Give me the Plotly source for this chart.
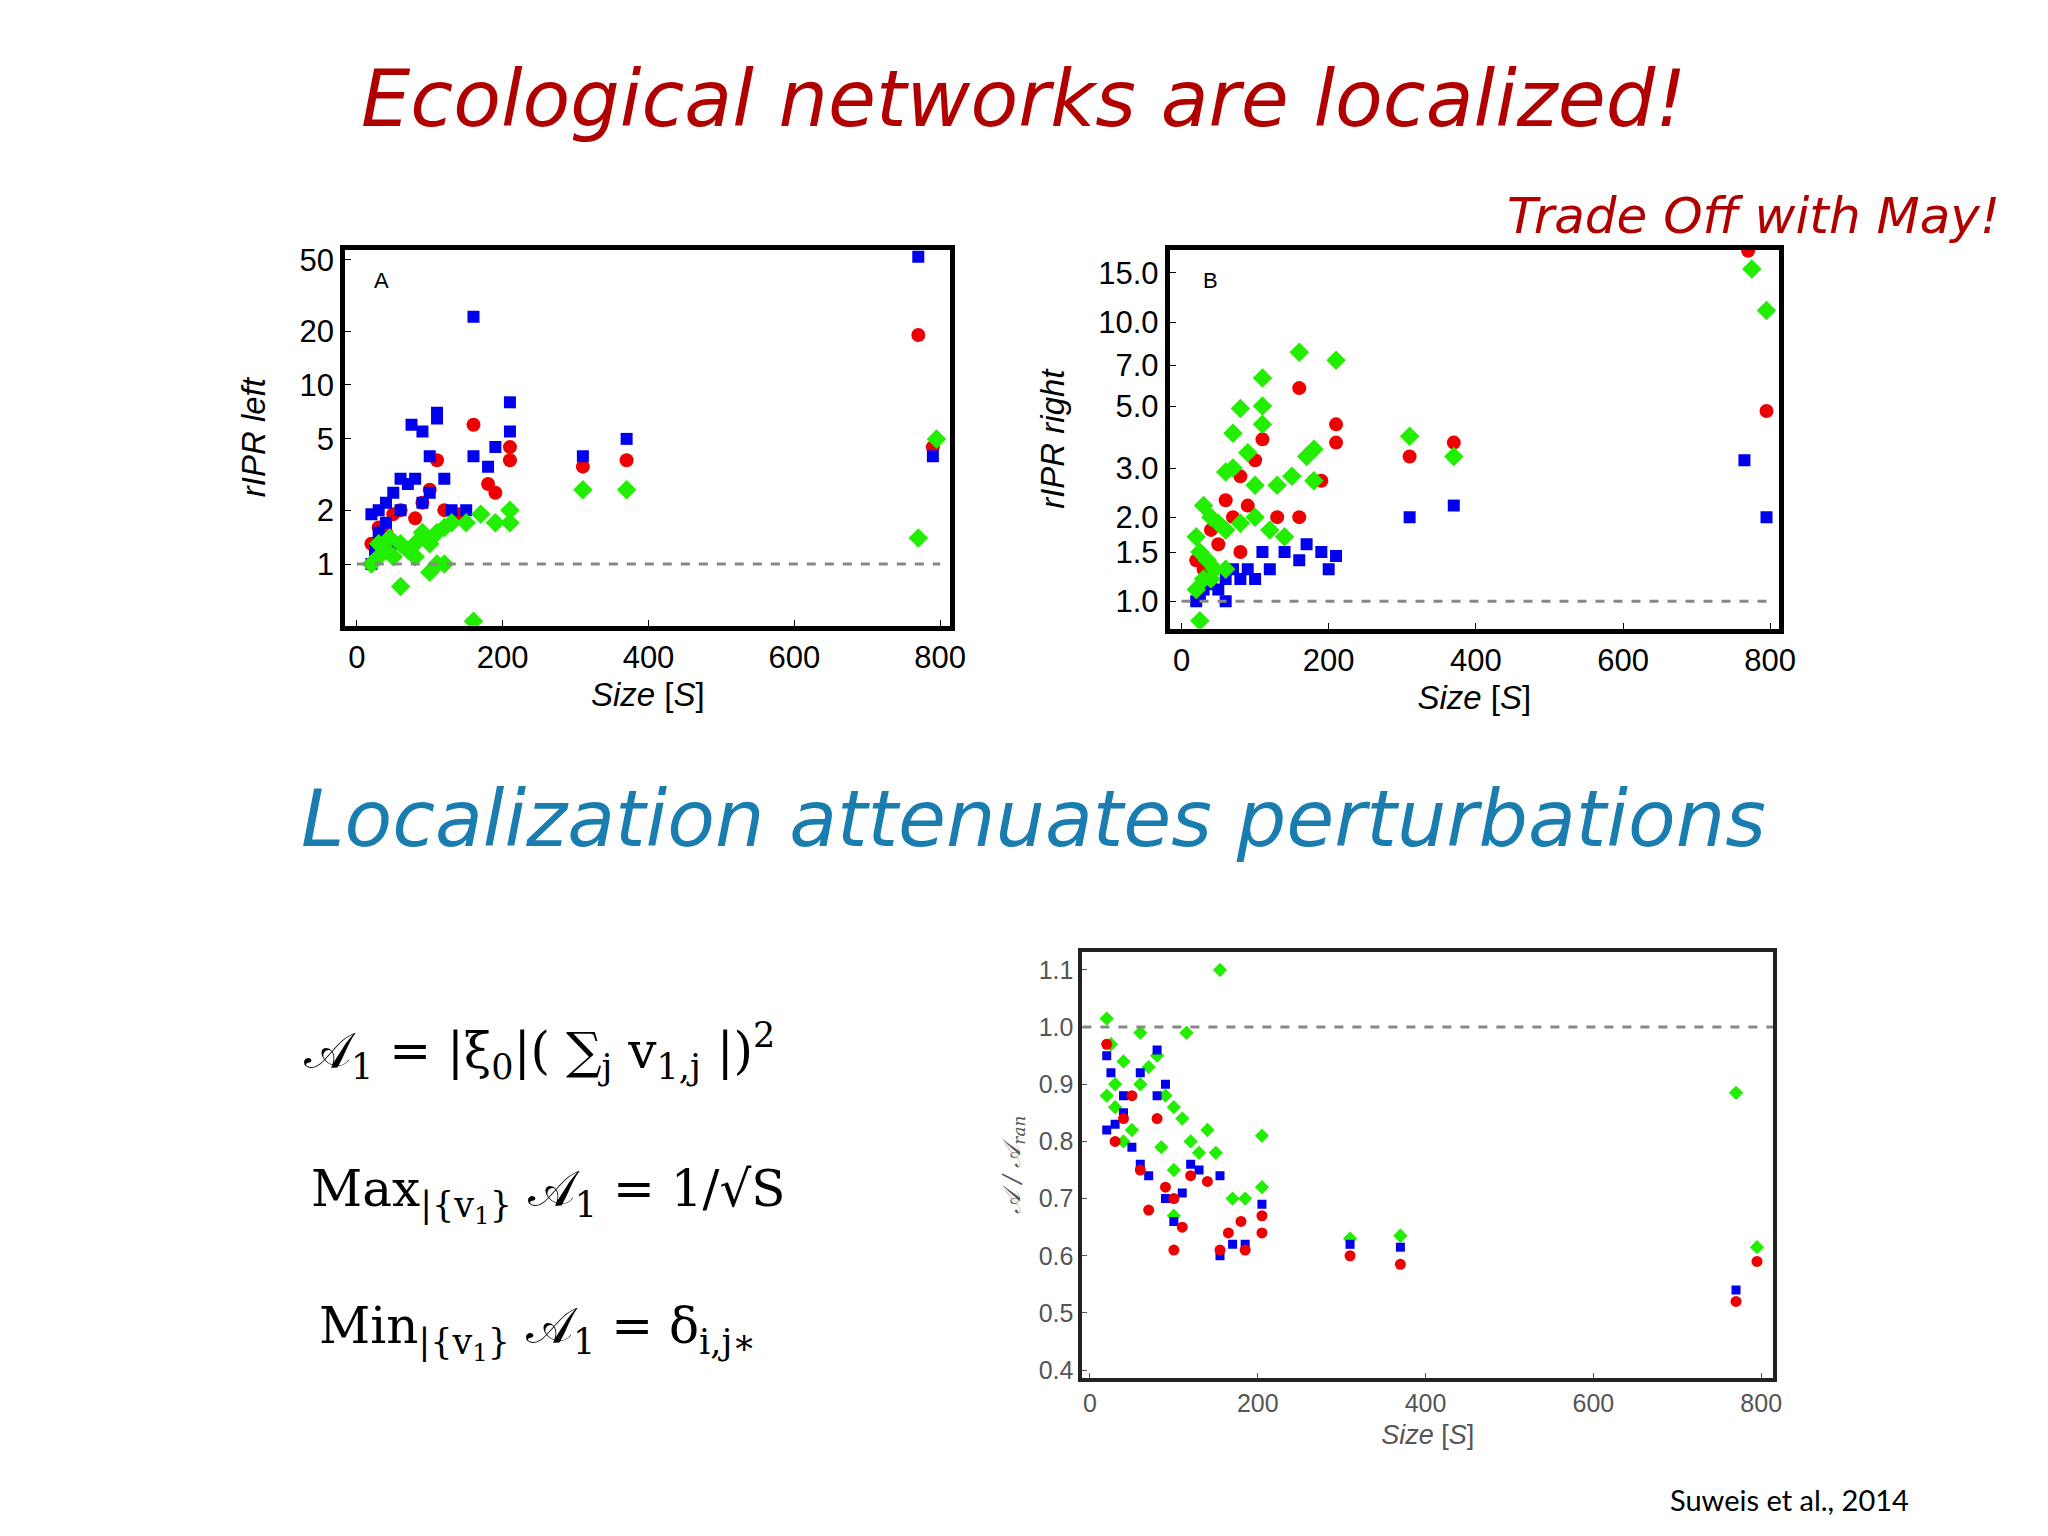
import plotly.graph_objects as go

# Panel A (rIPR left)
a_blue_x = [770,160,110,110,75,90,210,210,190,160,370,310,790,100,120,60,70,80,50,40,30,20,30,40,60,90,130,150,25,20,50,100,180]
a_blue_y = [52,24,7,6.5,6,5.5,8,5.5,4.5,4,5,4,4,4,3,3,2.8,3,2.5,2.2,2,1.9,1.5,1.7,2,2.2,2,2,1.2,1,1.3,2.5,3.5]
a_red_x = [770,160,210,210,110,310,370,180,190,90,80,60,30,20,40,120,140,790,50,100]
a_red_y = [19,6,4.5,3.8,3.8,3.5,3.8,2.8,2.5,2.2,1.8,2,1.6,1.3,1.5,2,1.9,4.5,1.9,2.6]
a_green_x = [795,770,160,310,370,210,210,190,170,150,130,120,110,100,90,80,70,60,50,40,30,20,60,100,110,30,45,80,120]
a_green_y = [5,1.4,0.48,2.6,2.6,2,1.7,1.7,1.9,1.7,1.7,1.6,1.5,1.3,1.5,1.3,1.2,1.3,1.1,1.2,1.1,1,0.75,0.9,1,1.3,1.4,1.1,1]

# Panel B (rIPR right)
b_green_x = [775,795,160,210,110,110,80,70,110,310,370,170,180,70,60,90,100,130,150,180,30,40,50,60,80,100,120,140,20,25,35,45,30,20,25,40,60]
b_green_y = [15.5,11,7.8,7.3,6.3,5,4.9,4,4.3,3.9,3.3,3.3,3.5,3,2.9,3.4,2.6,2.6,2.8,2.7,2.2,2,1.9,1.8,1.9,2,1.8,1.7,1.7,1.5,1.4,1.3,1.2,1.1,0.85,1.2,1.3]
b_red_x = [770,795,160,210,210,110,310,370,180,190,100,80,60,90,160,130,70,40,20,30,50,80]
b_red_y = [18,4.8,5.8,4.3,3.7,3.8,3.3,3.7,2.7,2.7,3.2,2.8,2.3,2.2,2,2,2,1.8,1.4,1.3,1.6,1.5]
b_blue_x = [765,795,310,370,210,170,190,160,140,120,100,90,80,70,60,50,40,30,20,25,60,110,200]
b_blue_y = [3.2,2.0,2,2.2,1.45,1.6,1.5,1.4,1.5,1.3,1.2,1.3,1.2,1.3,1.2,1.1,1.15,1.1,1,1.05,1,1.5,1.3]

# Panel C (A/A_ran)
c_green_x = [155,20,25,60,115,80,70,40,30,60,90,100,110,140,205,120,150,130,85,50,30,20,100,205,170,185,310,370,770,795,100,40]
c_green_y = [1.1,1.015,0.97,0.99,0.99,0.95,0.93,0.94,0.9,0.9,0.88,0.86,0.84,0.82,0.81,0.8,0.78,0.78,0.79,0.82,0.86,0.88,0.75,0.72,0.7,0.7,0.63,0.635,0.885,0.615,0.67,0.8]
c_blue_x = [20,25,40,60,80,80,90,30,50,60,70,90,110,130,120,155,170,185,205,155,310,370,770,100,20,40]
c_blue_y = [0.95,0.92,0.88,0.92,0.96,0.88,0.9,0.83,0.79,0.76,0.74,0.7,0.71,0.75,0.76,0.74,0.62,0.62,0.69,0.6,0.62,0.615,0.54,0.66,0.82,0.85]
c_red_x = [20,30,40,60,80,70,90,100,110,120,140,155,165,180,185,205,205,310,370,770,795,50,100]
c_red_y = [0.97,0.8,0.84,0.75,0.84,0.68,0.72,0.61,0.65,0.74,0.73,0.61,0.64,0.66,0.61,0.64,0.67,0.6,0.585,0.52,0.59,0.88,0.7]

RED, BLUE, GREEN = "#ee0000", "#0000ee", "#22ee00"
fig = go.Figure()

def add(x, y, c, sym, size, ax):
    fig.add_trace(go.Scatter(x=x, y=y, mode="markers", xaxis="x"+ax, yaxis="y"+ax,
                             marker=dict(color=c, symbol=sym, size=size, line=dict(width=0)),
                             showlegend=False))

add(a_red_x, a_red_y, RED, "circle", 14, "")
add(a_blue_x, a_blue_y, BLUE, "square", 12, "")
add(a_green_x, a_green_y, GREEN, "diamond", 15, "")
add(b_blue_x, b_blue_y, BLUE, "square", 12, "2")
add(b_red_x, b_red_y, RED, "circle", 14, "2")
add(b_green_x, b_green_y, GREEN, "diamond", 15, "2")
add(c_green_x, c_green_y, GREEN, "diamond", 11, "3")
add(c_blue_x, c_blue_y, BLUE, "square", 9, "3")
add(c_red_x, c_red_y, RED, "circle", 11, "3")

tickf = dict(family="Liberation Sans", size=31, color="black")
tf = dict(family="Liberation Sans", size=33, color="black")
frame = dict(showline=True, linecolor="black", linewidth=5, mirror=True, showgrid=False,
             zeroline=False, ticks="inside", ticklen=6, tickcolor="black", tickfont=tickf)
fig.update_layout(
    width=2048, height=1536, margin=dict(l=0, r=0, t=0, b=0),
    paper_bgcolor="white", plot_bgcolor="white",
    xaxis=dict(domain=[0.166, 0.464], anchor="y", range=[-16, 814], tickvals=[0,200,400,600,800], **frame,
               title=dict(text="<i>Size</i> [<i>S</i>]", font=tf, standoff=10)),
    yaxis=dict(domain=[0.599, 0.846], anchor="x", type="log", range=[-0.344, 1.756],
               tickvals=[1,2,5,10,20,50], **frame,
               title=dict(text="<i>rIPR left</i>", font=tf, standoff=25)),
    xaxis2=dict(domain=[0.572, 0.872], anchor="y2", range=[-16, 812], tickvals=[0,200,400,600,800], **frame,
                title=dict(text="<i>Size</i> [<i>S</i>]", font=tf, standoff=10)),
    yaxis2=dict(domain=[0.597, 0.846], anchor="x2", type="log", range=[-0.099, 1.26],
                tickvals=[1.0,1.5,2.0,3.0,5.0,7.0,10.0,15.0], ticktext=["1.0","1.5","2.0","3.0","5.0","7.0","10.0","15.0"],
                **frame,
                title=dict(text="<i>rIPR right</i>", font=tf, standoff=25)),
    xaxis3=dict(domain=[0.529, 0.869], anchor="y3", range=[-9, 814], tickvals=[0,200,400,600,800],
                showline=True, linecolor="#222", linewidth=4, mirror=True, showgrid=False, zeroline=False,
                ticks="inside", ticklen=5, tickcolor="#555", tickfont=dict(family="Liberation Sans", size=25, color="#555"),
                title=dict(text="<i>Size</i> [<i>S</i>]", font=dict(family="Liberation Sans", size=27, color="#555"), standoff=10)),
    yaxis3=dict(domain=[0.105, 0.385], anchor="x3", range=[0.386, 1.132], tickvals=[0.4,0.5,0.6,0.7,0.8,0.9,1.0,1.1],
                tickformat=".1f",
                showline=True, linecolor="#222", linewidth=4, mirror=True, showgrid=False, zeroline=False,
                ticks="inside", ticklen=5, tickcolor="#555", tickfont=dict(family="Liberation Sans", size=25, color="#555"),
                title=dict(text="<i>𝒜 / 𝒜<sub>ran</sub></i>", font=dict(family="DejaVu Serif", size=24, color="#555"), standoff=12)),
)
dash = dict(color="#888", width=3, dash="dash")
fig.add_shape(type="line", xref="x", yref="y", x0=0, x1=800, y0=1, y1=1, line=dash)
fig.add_shape(type="line", xref="x2", yref="y2", x0=0, x1=800, y0=1, y1=1, line=dash)
fig.add_shape(type="line", xref="x3", yref="y3", x0=-9, x1=814, y0=1, y1=1, line=dash)

def note(text, x, y, size, color="black", family="Lato", xanchor="center"):
    fig.add_annotation(text=text, x=x, y=y, xref="paper", yref="paper", showarrow=False,
                       font=dict(size=size, color=color, family=family), xanchor=xanchor, yanchor="middle")

note("<i>Ecological networks are localized!</i>", 0.5, 0.945, 78, "#b00000", "DejaVu Sans")
note("<i>Trade Off with May!</i>", 0.982, 0.868, 50, "#b00000", "DejaVu Sans", "right")
note("<i>Localization attenuates perturbations</i>", 0.505, 0.472, 78, "#1a7db0", "DejaVu Sans")
note("Suweis et al., 2014", 0.937, 0.025, 29, "black", "Lato", "right")
note("A", 0.184, 0.826, 22, "black", "Liberation Sans")
note("B", 0.592, 0.826, 22, "black", "Liberation Sans")
note("𝒜<sub>1</sub> = |ξ<sub>0</sub>|( ∑<sub>j</sub> v<sub>1,j</sub> |)<sup>2</sup>", 0.145, 0.32, 50, "black", "DejaVu Serif", "left")
note("Max<sub>|{v<sub>1</sub>}</sub> 𝒜<sub>1</sub> = 1/√S", 0.148, 0.225, 50, "black", "DejaVu Serif", "left")
note("Min<sub>|{v<sub>1</sub>}</sub> 𝒜<sub>1</sub> = δ<sub>i,j∗</sub>", 0.152, 0.135, 50, "black", "DejaVu Serif", "left")

fig.write_html("out.html")
